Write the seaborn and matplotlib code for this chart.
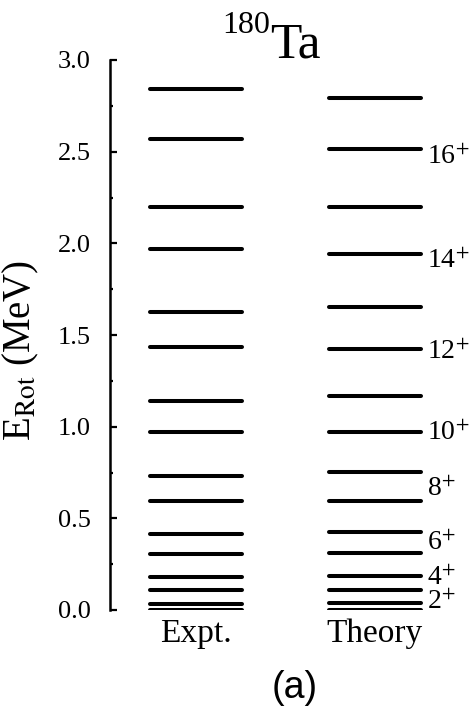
import matplotlib
matplotlib.use("Agg")
import numpy as np
import pandas as pd
import matplotlib.pyplot as plt
import matplotlib.ticker as ticker
import seaborn as sns

# level energies (MeV)
expt_energy = [0.0, 0.034, 0.107, 0.178, 0.307, 0.413, 0.596, 0.731, 0.973,
               1.139, 1.435, 1.627, 1.968, 2.199, 2.568, 2.842]
theory_energy = [0.0, 0.038, 0.107, 0.184, 0.309, 0.424, 0.596, 0.753, 0.973,
                 1.166, 1.424, 1.651, 1.944, 2.199, 2.517, 2.795]
columns = ["Expt.", "Theory"]
spin_labels = ["2", "4", "6", "8", "10", "12", "14", "16"]
spin_label_energy = [0.04, 0.17, 0.365, 0.655, 0.965, 1.405, 1.90, 2.47]

sns.set_theme(style="white")
plt.rcParams["font.family"] = ["Liberation Serif", "DejaVu Serif"]
plt.rcParams["mathtext.fontset"] = "stix"
plt.rcParams["text.color"] = "black"
plt.rcParams["ytick.color"] = "black"

# long table: each level is one short horizontal segment
half_w = 0.258
rows = []
for ci, (name, energies) in enumerate(zip(columns, [expt_energy, theory_energy])):
    for li, e in enumerate(energies):
        rows.append({"col": name, "level": f"{name}-{li}", "x": ci - half_w, "E": e})
        rows.append({"col": name, "level": f"{name}-{li}", "x": ci + half_w, "E": e})
df = pd.DataFrame(rows)

fig = plt.figure(figsize=(4.74, 7.19), dpi=100)
ax = fig.add_axes([110 / 474, 1 - 610 / 719, 1 - 110 / 474, 550 / 719])

sns.lineplot(data=df, x="x", y="E", units="level", estimator=None, color="black",
             lw=2.9, solid_capstyle="round", sort=False, ax=ax, legend=False)

ax.set_xlim(-0.482, 1.557)
ax.set_ylim(0, 3.0)
for s in ["top", "right", "bottom"]:
    ax.spines[s].set_visible(False)
ax.spines["left"].set_color("black")
ax.spines["left"].set_linewidth(1.8)
ax.set_xticks([])
ax.yaxis.set_major_locator(ticker.MultipleLocator(0.5))
ax.yaxis.set_minor_locator(ticker.MultipleLocator(0.25))
ax.yaxis.set_major_formatter(ticker.FormatStrFormatter("%.1f"))
ax.tick_params(axis="y", which="major", direction="in", length=5, width=1.6,
               labelsize=19, pad=14, left=True, color="black", labelcolor="black")
ax.tick_params(axis="y", which="minor", direction="in", length=2.5, width=1.6,
               left=True, color="black")
ax.set_xlabel("")
ax.set_ylabel("")
ax.grid(False)

# column names under the levels
for ci, name in enumerate(columns):
    ax.text(ci, -0.045, name, ha="center", va="top", fontsize=24)

# spin labels on the theory column
for lab, e in zip(spin_labels, spin_label_energy):
    ax.text(1 + half_w + 0.035, e, f"{lab}$^{{+}}$", ha="left", va="center", fontsize=20)

fig.text(0.002, (719 - 350) / 719, r"E$_{\mathrm{Rot}}$ (MeV)", rotation=90,
         ha="left", va="center", fontsize=28)
fig.text(270 / 474, 1 - 58 / 719, "Ta", ha="left", va="baseline", fontsize=37)
fig.text(270 / 474, 1 - 33 / 719, "180", ha="right", va="baseline", fontsize=23)
fig.text(295 / 474, 1 - 688 / 719, "(a)", ha="center", va="center", fontsize=27,
         family=["Liberation Sans", "DejaVu Sans"])

fig.savefig("out.png", dpi=100)
